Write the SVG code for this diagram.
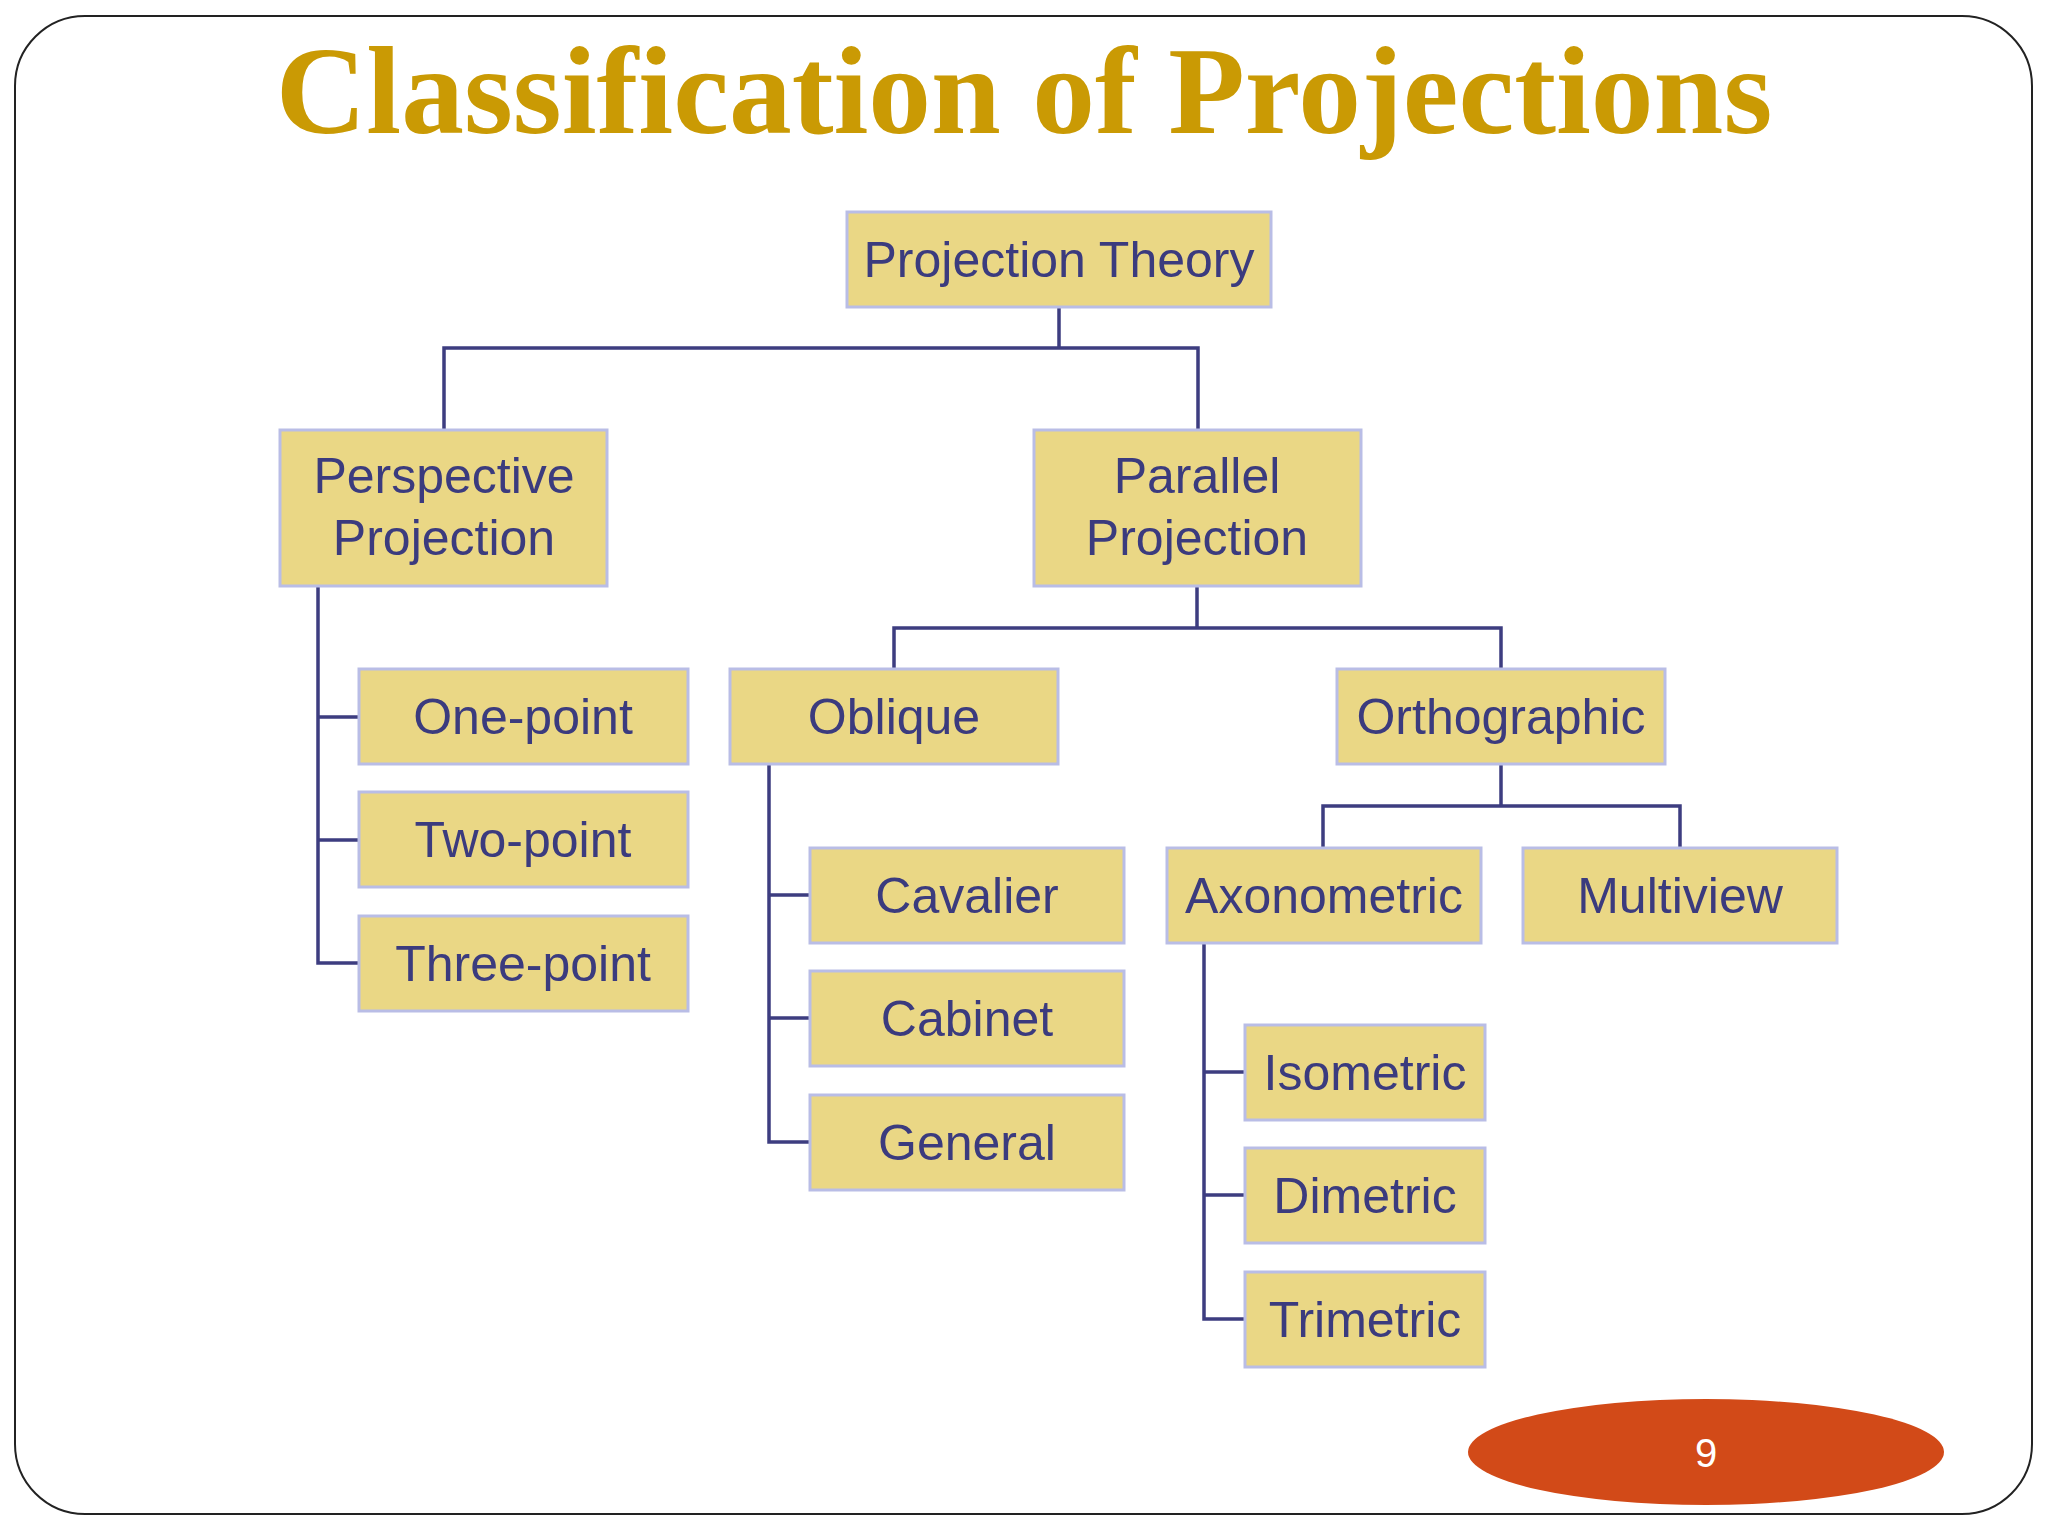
<svg xmlns="http://www.w3.org/2000/svg" width="2048" height="1536" viewBox="0 0 2048 1536">
<style>
.box{fill:#EAD785;stroke:#B9BDE6;stroke-width:3}
.lbl{font-family:"Liberation Sans",Arial,sans-serif;font-size:50px;fill:#3B3B7E;text-anchor:middle}
.con{fill:none;stroke:#3D3D80;stroke-width:3.5;stroke-linecap:square}
</style>
<rect x="0" y="0" width="2048" height="1536" fill="#FFFFFF"/>
<rect x="15" y="16" width="2017" height="1498" rx="70" ry="70" fill="#FFFFFF" stroke="#222222" stroke-width="2"/>
<text x="1024" y="133" font-family="'Liberation Serif','Times New Roman',serif" font-weight="bold" font-size="125.5" fill="#CA9A04" text-anchor="middle">Classification of Projections</text>
<g id="connectors">
<path class="con" d="M1059,307 V348 M444,430 V348 H1198 V430"/>
<path class="con" d="M318,586 V963 H359 M318,717 H359 M318,840 H359"/>
<path class="con" d="M1197,586 V628 M894,669 V628 H1501 V669"/>
<path class="con" d="M769,764 V1142 H810 M769,895 H810 M769,1018 H810"/>
<path class="con" d="M1501,764 V806 M1323,848 V806 H1680 V848"/>
<path class="con" d="M1204,943 V1319 H1245 M1204,1072 H1245 M1204,1195 H1245"/>
</g>
<g id="projection-theory"><rect class="box" x="847" y="212" width="424" height="95"/><text class="lbl" x="1059" y="277">Projection Theory</text></g>
<g id="perspective"><rect class="box" x="280" y="430" width="327" height="156"/><text class="lbl" x="444" y="493">Perspective</text><text class="lbl" x="444" y="555">Projection</text></g>
<g id="parallel"><rect class="box" x="1034" y="430" width="327" height="156"/><text class="lbl" x="1197" y="493">Parallel</text><text class="lbl" x="1197" y="555">Projection</text></g>
<g id="one-point"><rect class="box" x="359" y="669" width="329" height="95"/><text class="lbl" x="523" y="734">One-point</text></g>
<g id="two-point"><rect class="box" x="359" y="792" width="329" height="95"/><text class="lbl" x="523" y="857">Two-point</text></g>
<g id="three-point"><rect class="box" x="359" y="916" width="329" height="95"/><text class="lbl" x="523" y="981">Three-point</text></g>
<g id="oblique"><rect class="box" x="730" y="669" width="328" height="95"/><text class="lbl" x="894" y="734">Oblique</text></g>
<g id="orthographic"><rect class="box" x="1337" y="669" width="328" height="95"/><text class="lbl" x="1501" y="734">Orthographic</text></g>
<g id="cavalier"><rect class="box" x="810" y="848" width="314" height="95"/><text class="lbl" x="967" y="913">Cavalier</text></g>
<g id="cabinet"><rect class="box" x="810" y="971" width="314" height="95"/><text class="lbl" x="967" y="1036">Cabinet</text></g>
<g id="general"><rect class="box" x="810" y="1095" width="314" height="95"/><text class="lbl" x="967" y="1160">General</text></g>
<g id="axonometric"><rect class="box" x="1167" y="848" width="314" height="95"/><text class="lbl" x="1324" y="913">Axonometric</text></g>
<g id="multiview"><rect class="box" x="1523" y="848" width="314" height="95"/><text class="lbl" x="1680" y="913">Multiview</text></g>
<g id="isometric"><rect class="box" x="1245" y="1025" width="240" height="95"/><text class="lbl" x="1365" y="1090">Isometric</text></g>
<g id="dimetric"><rect class="box" x="1245" y="1148" width="240" height="95"/><text class="lbl" x="1365" y="1213">Dimetric</text></g>
<g id="trimetric"><rect class="box" x="1245" y="1272" width="240" height="95"/><text class="lbl" x="1365" y="1337">Trimetric</text></g>
<g id="page-number"><ellipse cx="1706" cy="1452" rx="238" ry="53" fill="#D24A18"/><text x="1706" y="1467" font-family="'Liberation Sans',Arial,sans-serif" font-size="40" fill="#FFFFFF" text-anchor="middle">9</text></g>
</svg>
